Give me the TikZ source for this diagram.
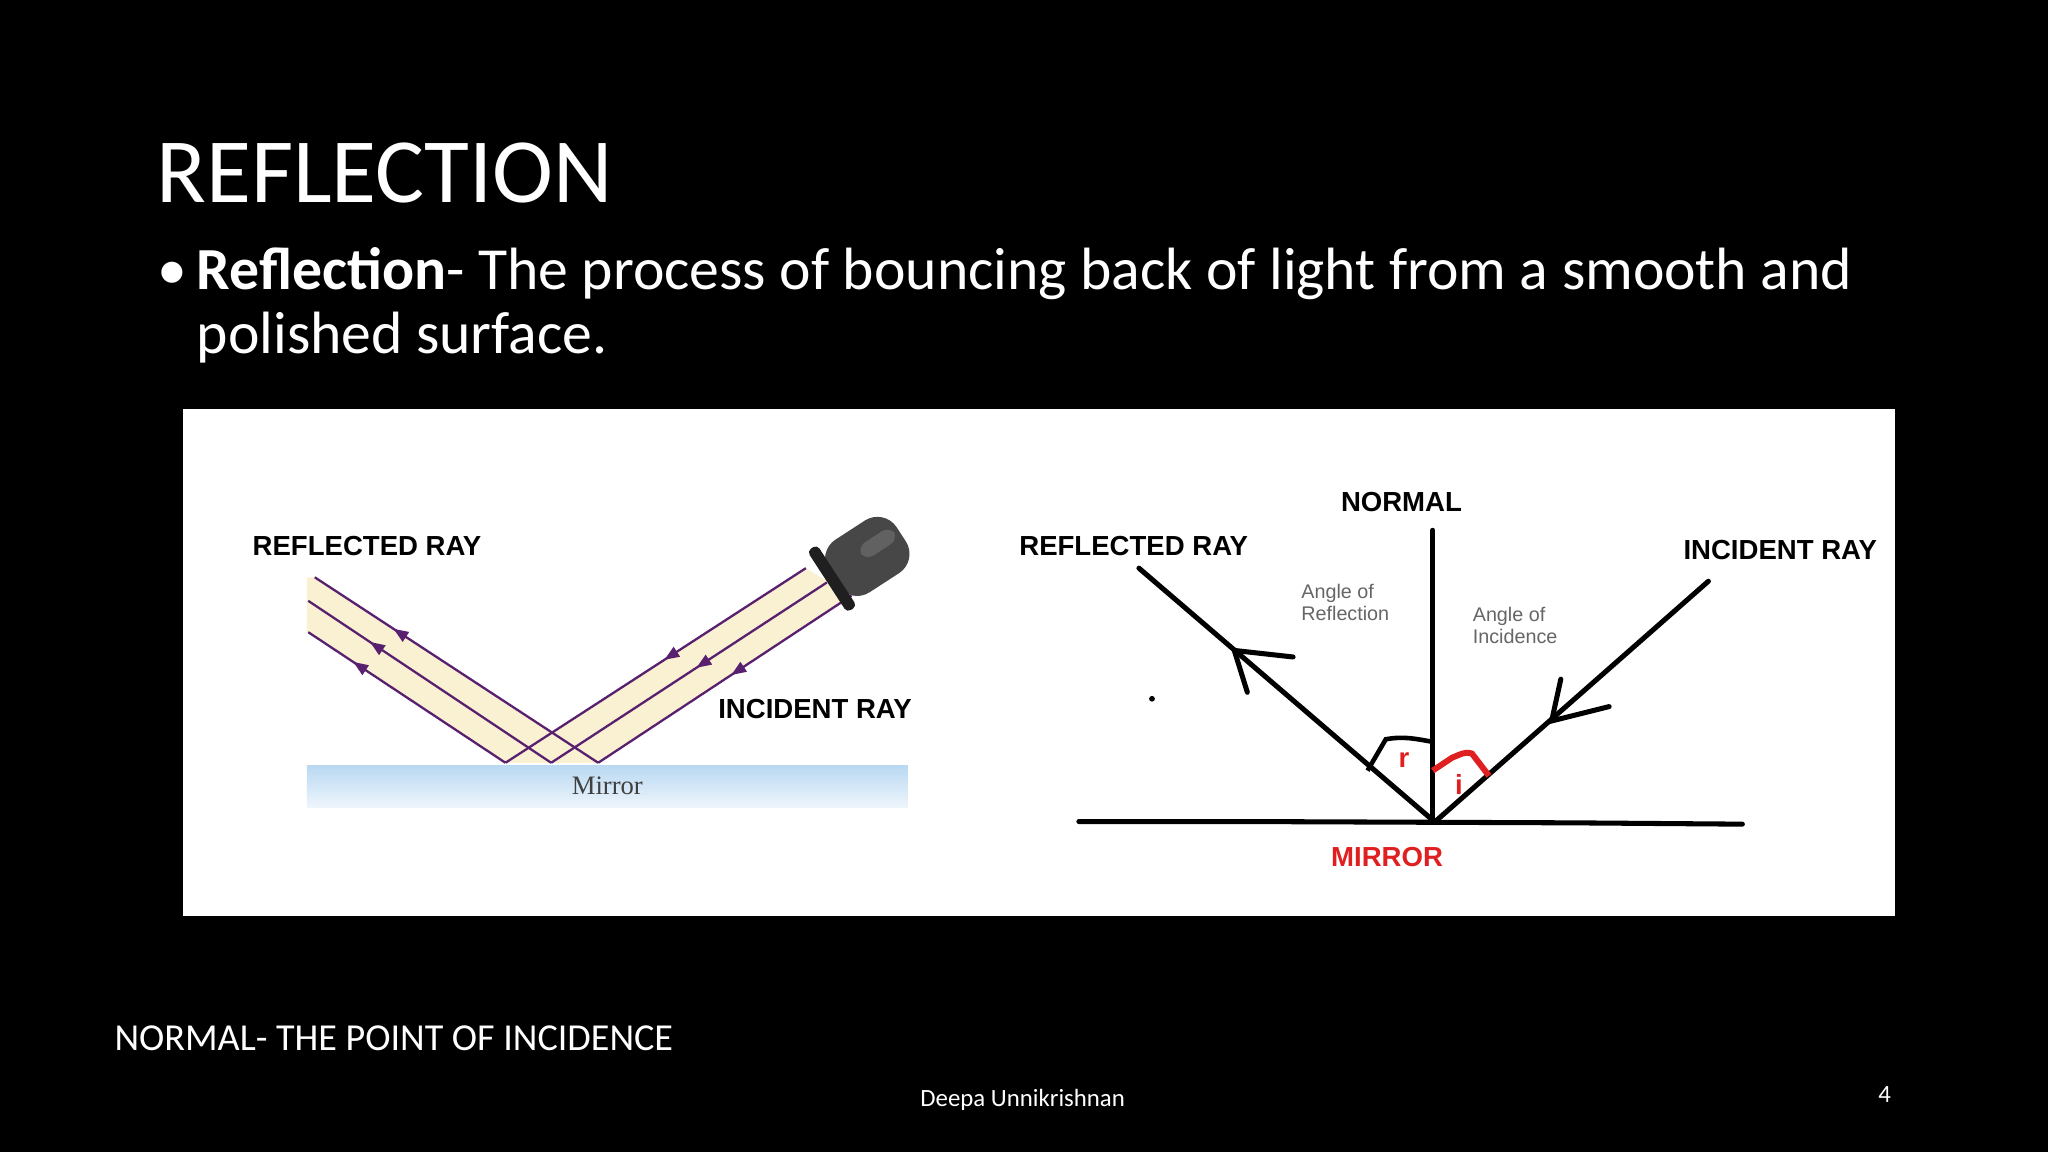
\documentclass[tikz,border=0pt]{standalone}
\usepackage{fontspec}
\setmainfont{Carlito}
\newfontfamily\arialf{Liberation Sans}
\newfontfamily\timesf{Liberation Serif}
\usetikzlibrary{arrows.meta,shapes.geometric}
\definecolor{beam}{HTML}{FAF1D2}
\definecolor{ray}{HTML}{5A2070}
\definecolor{mred}{HTML}{E02020}
\definecolor{mirtop}{HTML}{B9D9F2}
\definecolor{mirbot}{HTML}{EEF5FC}
\tikzset{
  lbl/.style={font=\arialf\bfseries\fontsize{6}{7}\selectfont, text=black, inner sep=0pt},
  angtxt/.style={font=\arialf\fontsize{4.3}{4.8}\selectfont, text=black!60, align=left, inner sep=0pt},
  rayline/.style={draw=ray, line width=0.5pt},
  thick ray/.style={draw=black, line width=1.1pt, line cap=round},
  slide/.style={text=white, inner sep=0pt, anchor=base west}
}
\begin{document}
\begin{tikzpicture}[x=0.01cm,y=-0.01cm]
\fill[black] (0,0) rectangle (1568,882);
\useasboundingbox (0,0) rectangle (1568,882);
% slide text
\node[slide, font=\fontsize{20}{24}\selectfont] (title) at (119,155) {REFLECTION};
\node[slide, font=\fontsize{13}{15}\selectfont] (bul) at (120,222) {\textbullet};
\node[slide, font=\fontsize{13}{15}\selectfont] (l1) at (150,222) {\textbf{Reflection}- The process of bouncing back of light from a smooth and};
\node[slide, font=\fontsize{13}{15}\selectfont] (l2) at (150,271) {polished surface.};
\node[slide, font=\fontsize{8.3}{9}\selectfont] (foot) at (87,804) {NORMAL- THE POINT OF INCIDENCE};
\node[text=white, inner sep=0pt, font=\fontsize{5.4}{6}\selectfont] (auth) at (783,842) {Deepa Unnikrishnan};
\node[text=white, inner sep=0pt, font=\fontsize{5.4}{6}\selectfont] (pg) at (1443,838) {4};
% white panel
\fill[white] (140,313) rectangle (1451,701);

% ---------- left diagram ----------
\shade[top color=mirtop, bottom color=mirbot] (235,586) rectangle (695,618);
\node[font=\timesf\fontsize{5.8}{6}\selectfont, text=black!75, inner sep=0pt] (mirtxt) at (465,602) {Mirror};
\coordinate (m1) at (387,584); \coordinate (m2) at (422,584); \coordinate (m3) at (458,584);
\coordinate (r1) at (241,442); \coordinate (r2) at (236,460); \coordinate (r3) at (236,484);
\coordinate (i1) at (617,435); \coordinate (i2) at (633,446); \coordinate (i3) at (652,456);
\fill[beam] (235,442) -- (r1) -- (m3) -- (m1) -- (r3) -- (235,484) -- cycle;
\fill[beam] (m1) -- (i1) -- (i3) -- (m3) -- cycle;
\foreach \a/\b in {r1/m3,r2/m2,r3/m1,i1/m1,i2/m2,i3/m3}{\draw[rayline] (\a) -- (\b);}
\foreach \a/\b/\p in {m3/r1/0.7,m2/r2/0.72,m1/r3/0.74,i1/m1/0.45,i2/m2/0.45,i3/m3/0.45}{
  \path (\a) -- (\b) node[pos=\p, sloped, inner sep=0pt] {\tikz\fill[ray] (0,1.3pt) -- (-3.2pt,0) -- (0,-1.3pt) -- cycle;};}
% flashlight
\node[fill=black!72, rotate=33, minimum width=0.62cm, minimum height=0.48cm, rounded corners=5pt, inner sep=0pt] (torch) at (664,426) {};
\node[fill=black!88, rotate=33, minimum width=0.09cm, minimum height=0.56cm, rounded corners=1pt, inner sep=0pt] (rim) at (637,443) {};
\node[fill=black!55, rotate=33, minimum width=0.3cm, minimum height=0.12cm, rounded corners=2pt, inner sep=0pt, opacity=0.6] (hl) at (672,416) {};
\node[lbl] (lrefl) at (281,418) {REFLECTED RAY};
\node[lbl] (linc) at (624,543) {INCIDENT RAY};

% ---------- right diagram ----------
\coordinate (O) at (1097,628);
\coordinate (Ntop) at (1097,406);
\coordinate (Mleft) at (826,629); \coordinate (Mright) at (1334,631);
\coordinate (Rend) at (872,435); \coordinate (Istart) at (1308,445);
\draw[thick ray] (Mleft) -- (955,629) -- (1205,630) -- (Mright);
\draw[thick ray] (Ntop) -- (O);
\draw[thick ray] (O) -- (Rend);
\draw[thick ray] (Istart) -- (1100,628);
\coordinate (ra) at (945,498);
\draw[thick ray] (990,503) -- (ra) -- (955,530);
\coordinate (ia) at (1188,552);
\draw[thick ray] (1232,541) -- (ia) -- (1195,520);
\fill (882,535) circle (2.2);
\draw[black, line width=1pt] (1047,590) -- (1061,566) to[out=10,in=170] (1097,568);
\draw[mred, line width=1.3pt] (1097,590) -- (1112,580) to[out=20,in=160] (1127,577) -- (1140,594);
\node[text=mred, font=\arialf\bfseries\fontsize{6}{7}\selectfont, inner sep=0pt] (rl) at (1075,582) {r};
\node[text=mred, font=\arialf\bfseries\fontsize{6}{7}\selectfont, inner sep=0pt] (il) at (1117,601) {i};
\node[lbl] (norm) at (1073,384) {NORMAL};
\node[lbl] (rrefl) at (868,418) {REFLECTED RAY};
\node[lbl] (rinc) at (1363,421) {INCIDENT RAY};
\node[lbl, text=mred] (mir) at (1062,656) {MIRROR};
\node[angtxt] (aref) at (1030,461) {Angle of\\Reflection};
\node[angtxt] (ainc) at (1160,479) {Angle of\\Incidence};
\end{tikzpicture}
\end{document}
